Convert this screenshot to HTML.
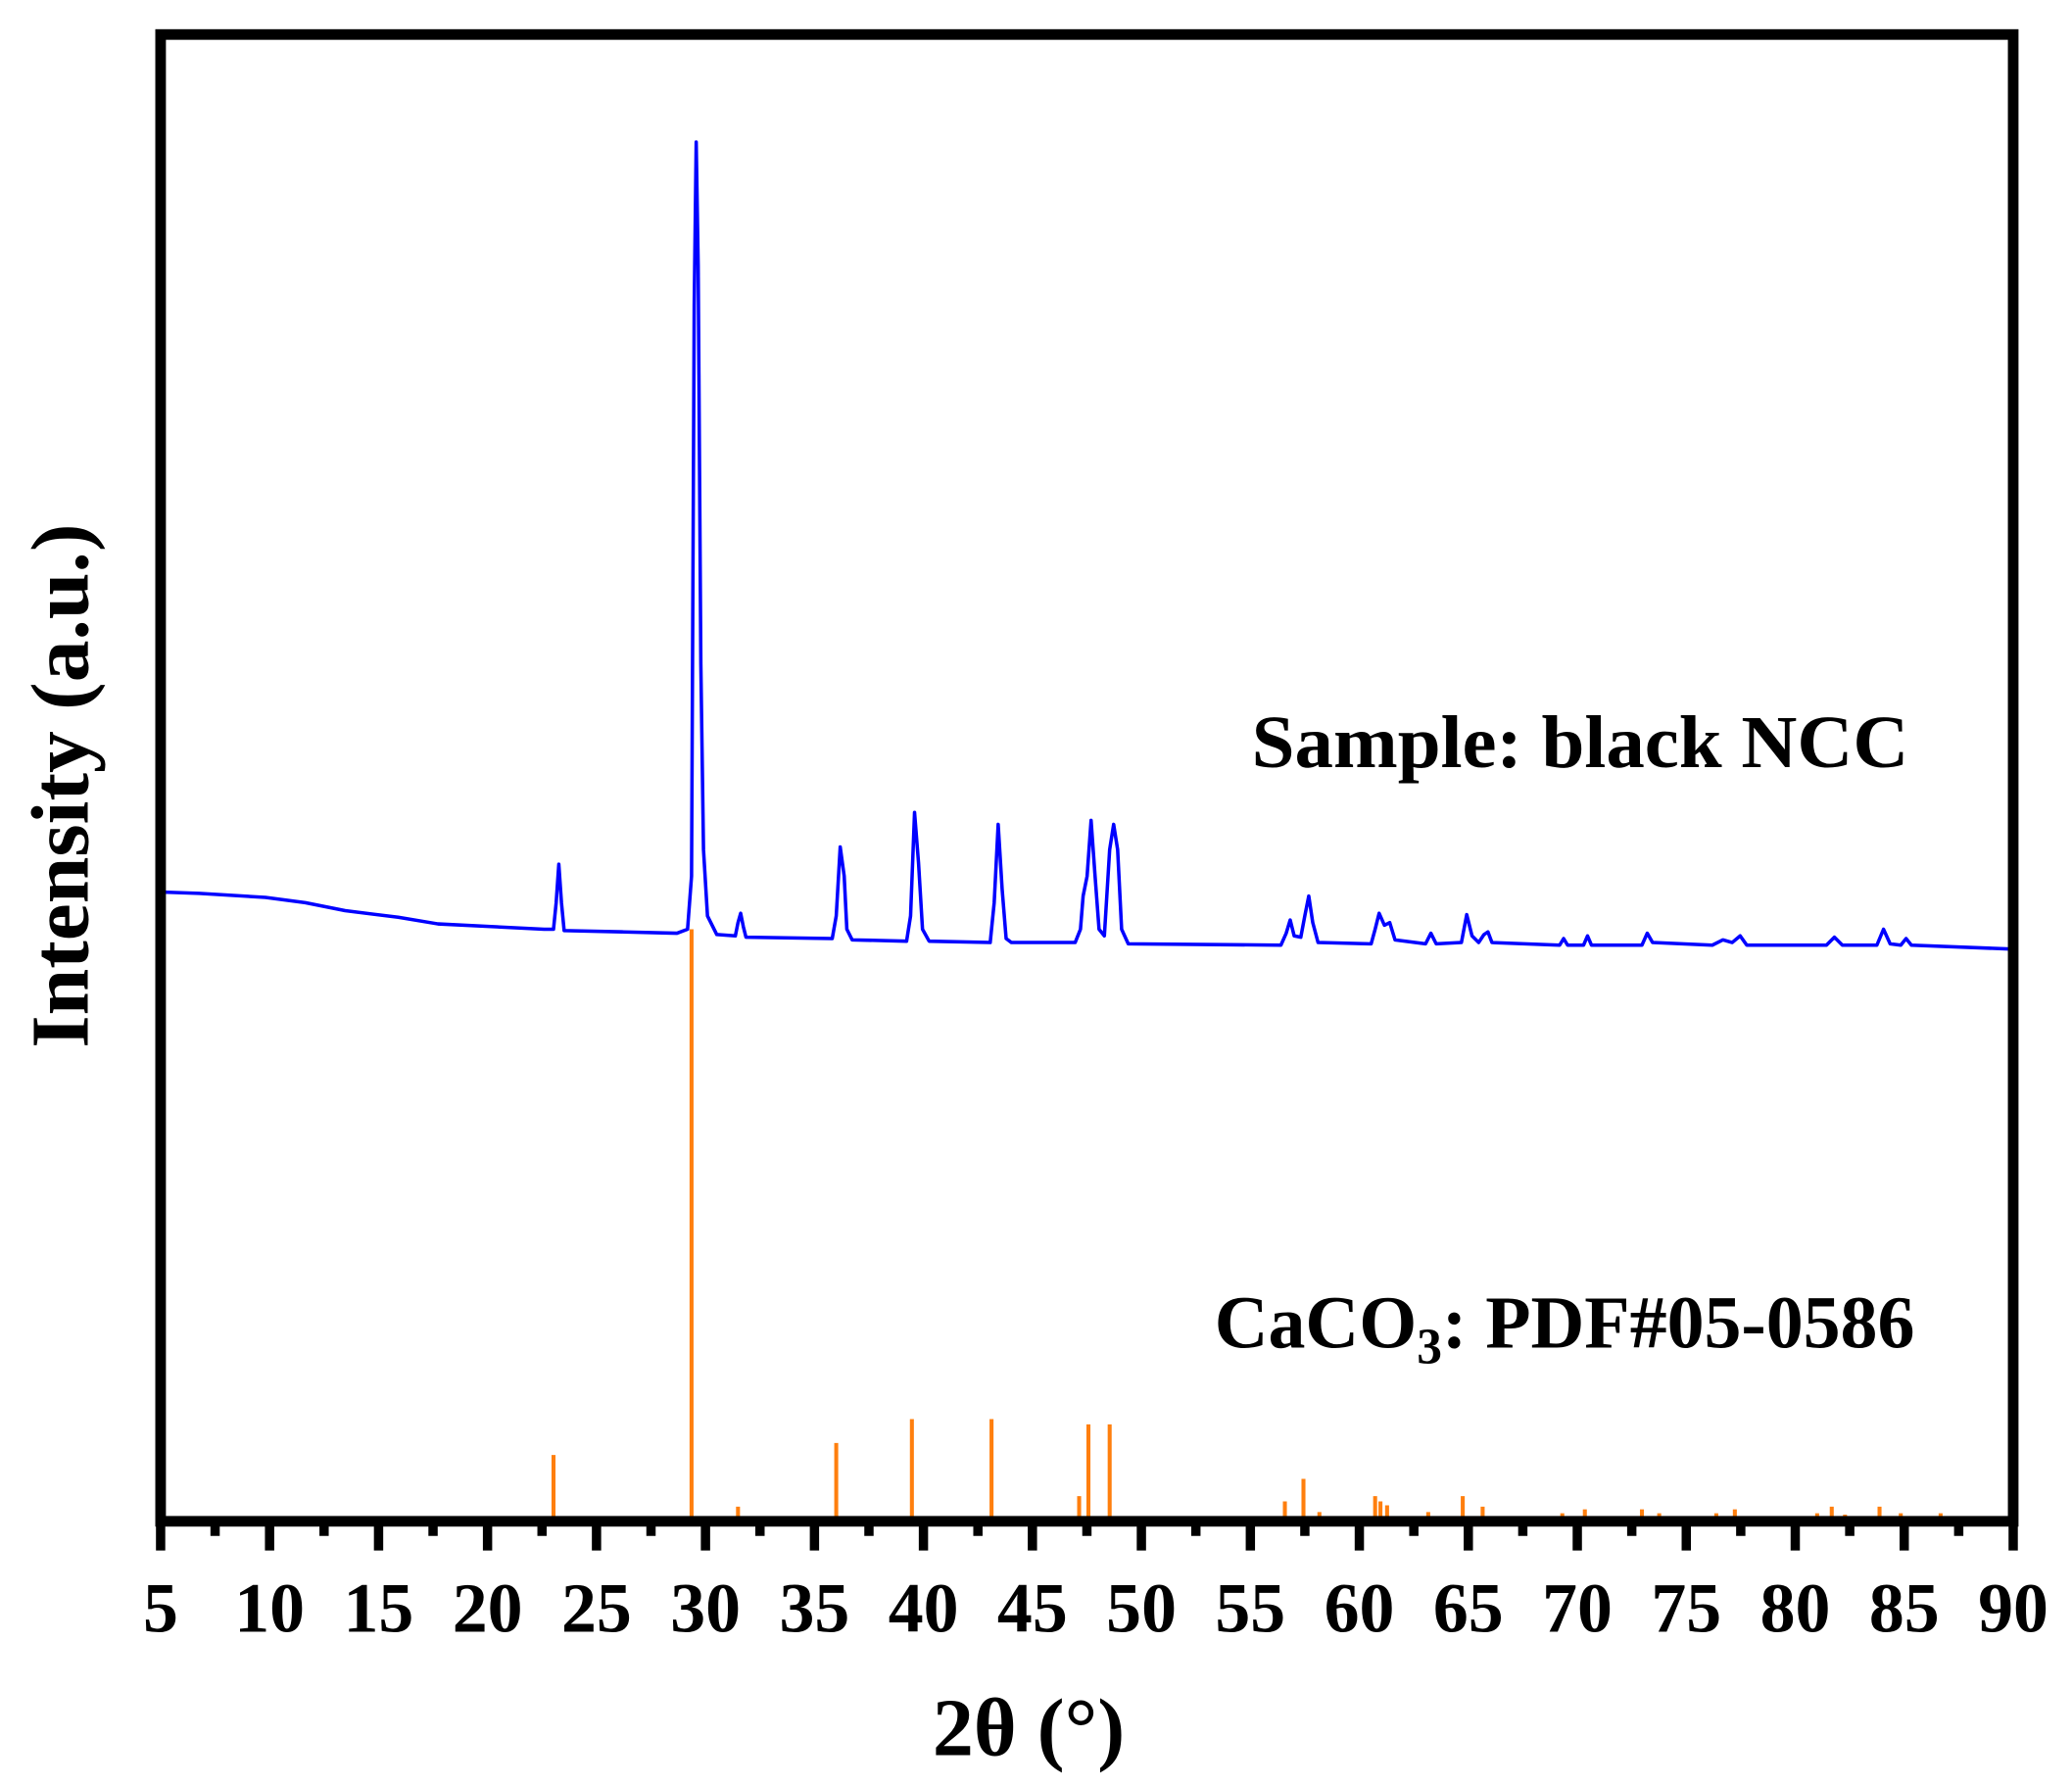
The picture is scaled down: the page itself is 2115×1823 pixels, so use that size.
<!DOCTYPE html>
<html><head><meta charset="utf-8"><style>html,body{margin:0;padding:0;background:#fff}svg{display:block}</style></head>
<body>
<svg width="2115" height="1823" viewBox="0 0 1561 1345.4" preserveAspectRatio="none" xmlns="http://www.w3.org/2000/svg" font-family="'Liberation Serif',serif" font-weight="bold">
<rect width="1561" height="1346" fill="#fff"/>
<g stroke="#ff7f0e" stroke-width="3">
<path d="M417,1146V1096M521,1146V700M556,1146V1135M630,1146V1087M687,1146V1069M747,1146V1069M813,1146V1127M820,1146V1073M836,1146V1073M968,1146V1131M982,1146V1114M994,1146V1139M1036,1146V1127M1040,1146V1131M1045,1146V1134M1076,1146V1139M1102,1146V1127M1117,1146V1135M1177,1146V1140M1194,1146V1137M1237,1146V1137M1250,1146V1140M1293,1146V1140M1307,1146V1137M1369,1146V1140M1380,1146V1135M1390,1146V1141M1416,1146V1135M1432,1146V1140M1462,1146V1140"/>
</g>
<path fill="none" stroke="#0000ff" stroke-width="2.6" stroke-linejoin="round" d="M121,672 L150,673 L200,676 L230,680 L260,686 L300,691 L330,696 L370,698 L410,700 L417,700 L419,680 L421,651 L423,680 L425,701 L470,702 L510,703 L518,700 L521,660 L523,230 L524.5,107 L526,200 L528,500 L530,640 L533,690 L540,704 L554,705 L556,695 L558,688 L560,698 L562,706 L627,707 L630,690 L633,638 L636,660 L638,700 L642,708 L683,709 L686,690 L689,612 L692,650 L695,700 L700,709 L746,710 L749,680 L752,621 L755,670 L758,707 L762,710 L810,710 L814,700 L816,675 L819,660 L822,618 L825,660 L828,700 L832,705 L836,640 L839,621 L842,640 L845,700 L850,711 L965,712 L969,703 L972,693 L975,705 L980,706 L983,690 L986,675 L989,695 L993,710 L1033,711 L1036,700 L1039,688 L1043,697 L1047,695 L1051,708 L1074,711 L1078,703 L1082,711 L1101,710 L1105,689 L1109,705 L1114,710 L1118,704 L1121,702 L1124,710 L1175,712 L1178,707 L1181,712 L1193,712 L1196,705 L1199,712 L1237,712 L1241,703 L1245,710 L1290,712 L1298,708 L1305,710 L1311,705 L1316,712 L1376,712 L1382,706 L1388,712 L1414,712 L1419,700 L1424,711 L1432,712 L1436,707 L1440,712 L1517,715"/>
<rect x="121" y="26" width="1395.7" height="1120" fill="none" stroke="#000" stroke-width="8"/>
<path stroke="#000" stroke-width="7" d="M121,1146V1168M203.1,1146V1168M285.2,1146V1168M367.3,1146V1168M449.4,1146V1168M531.5,1146V1168M613.6,1146V1168M695.7,1146V1168M777.8,1146V1168M859.9,1146V1168M942,1146V1168M1024.1,1146V1168M1106.2,1146V1168M1188.3,1146V1168M1270.4,1146V1168M1352.5,1146V1168M1434.6,1146V1168M1516.7,1146V1168"/>
<path stroke="#000" stroke-width="7" d="M162.05,1146V1157M244.15,1146V1157M326.25,1146V1157M408.35,1146V1157M490.45,1146V1157M572.55,1146V1157M654.65,1146V1157M736.75,1146V1157M818.85,1146V1157M900.95,1146V1157M983.05,1146V1157M1065.15,1146V1157M1147.25,1146V1157M1229.35,1146V1157M1311.45,1146V1157M1393.55,1146V1157M1475.65,1146V1157"/>
<g font-size="53" text-anchor="middle" fill="#000">
<text x="121" y="1229">5</text><text x="203.1" y="1229">10</text><text x="285.2" y="1229">15</text><text x="367.3" y="1229">20</text><text x="449.4" y="1229">25</text><text x="531.5" y="1229">30</text><text x="613.6" y="1229">35</text><text x="695.7" y="1229">40</text><text x="777.8" y="1229">45</text><text x="859.9" y="1229">50</text><text x="942" y="1229">55</text><text x="1024.1" y="1229">60</text><text x="1106.2" y="1229">65</text><text x="1188.3" y="1229">70</text><text x="1270.4" y="1229">75</text><text x="1352.5" y="1229">80</text><text x="1434.6" y="1229">85</text><text x="1516.7" y="1229">90</text>
</g>
<text x="775" y="1322" font-size="62" text-anchor="middle">2θ (°)</text>
<text transform="translate(66,592) rotate(-90)" font-size="62" text-anchor="middle" textLength="395" lengthAdjust="spacingAndGlyphs">Intensity (a.u.)</text>
<text x="943" y="578" font-size="56" textLength="495" lengthAdjust="spacingAndGlyphs">Sample: black NCC</text>
<text x="915" y="1015" font-size="56">CaCO<tspan font-size="38" dy="12">3</tspan><tspan dy="-12">: PDF#05-0586</tspan></text>
</svg>
</body></html>
